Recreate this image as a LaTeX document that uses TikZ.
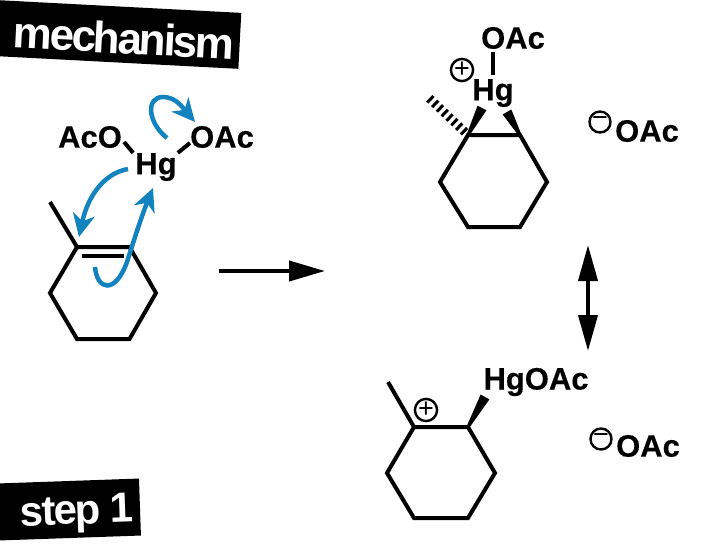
\documentclass[tikz,border=0pt]{standalone}
\usepackage{fontspec}
\setmainfont{Liberation Sans}[BoldFont={Liberation Sans Bold}]
\newfontfamily\labelfont{Liberation Sans Bold}[FakeBold=0.3]
\newfontfamily\headfont{Liberation Sans Bold}[LetterSpace=-6]
\newfontfamily\stepfont{Liberation Sans Bold}[LetterSpace=-5]
\usetikzlibrary{arrows,arrows.meta}
\usetikzlibrary{calc}
\definecolor{pfeil}{RGB}{18,131,190}
\tikzset{
	bond/.style={line width=4pt},
	atom/.style={font=\fontsize{31}{31}\labelfont,inner sep=0pt},
	charge/.style={draw,circle,line width=2.4pt,inner sep=0pt,minimum size=21pt,font=\fontsize{27}{27}\selectfont},
	banner/.style={fill=black,inner sep=0pt},
	bannertext/.style={text=white,inner sep=0pt},
	curly/.style={pfeil,line width=4.5pt,-{Stealth[length=23pt,width=22pt,inset=7pt]}},
	reaction/.style={line width=4pt,-{Triangle[length=36pt,width=20pt]}},
	equilibrium/.style={line width=4pt,{Triangle[length=36pt,width=19pt]}-{Triangle[length=36pt,width=19pt]}},
}
\newcommand{\wedgebond}[2]{\fill ($(#1)!1.5pt!90:(#2)$) -- ($(#2)!5pt!-90:(#1)$) -- ($(#2)!5pt!90:(#1)$) -- ($(#1)!1.5pt!-90:(#2)$) -- cycle;}
\begin{document}
\begin{tikzpicture}[x=1pt,y=-1pt]
		\useasboundingbox (0,0) rectangle (728,546);
		% banners
		\node[banner,rotate=-3,minimum width=262pt,minimum height=56pt] (B1) at (109,34) {};
		\node[bannertext,rotate=-3,font=\fontsize{44}{44}\headfont] (T1) at (124,38) {mechanism};
		\node[banner,rotate=2,minimum width=170pt,minimum height=57pt] (B2) at (55,510) {};
		\node[bannertext,rotate=2,font=\fontsize{42}{42}\stepfont] (T2) at (77,514) {step 1};
		% left ring
		\coordinate (A1) at (77,247);
		\coordinate (A2) at (129.5,247);
		\coordinate (A3) at (156,293);
		\coordinate (A4) at (129.5,339);
		\coordinate (A5) at (77,339);
		\coordinate (A6) at (50,293);
		\coordinate (AM) at (50,202);
		\coordinate (AD1) at (82,256);
		\coordinate (AD2) at (124,256);
		\draw[bond] (A1) -- (A2) -- (A3) -- (A4) -- (A5) -- (A6) -- cycle;
		\draw[bond] (A1) -- (AM);
		\draw[bond] (AD1) -- (AD2);
		\node[atom] (AcO) at (90,137) {AcO};
		\node[atom] (Hg1) at (156,167) {Hg};
		\node[atom] (OAc1) at (222,137) {OAc};
		\path (AcO.east) ++(2,5) coordinate (P1) (Hg1.north west) ++(-2,0) coordinate (P2);
		\draw[bond] (P1) -- (P2);
		\path (Hg1.north east) ++(1,0) coordinate (P3) (OAc1.west) ++(0,6) coordinate (P4);
		\draw[bond] (P3) -- (P4);
		% curly arrows
		\coordinate (C1) at (167,138);
		\coordinate (C2) at (195,122);
		\draw[curly] (C1) .. controls (147,122) and (146,97) .. (163,97) .. controls (176,97) and (183,108) .. (C2);
		\coordinate (C3) at (128,169);
		\coordinate (C4) at (79,237);
		\draw[curly] (C3) .. controls (105,173) and (88,195) .. (C4);
		\coordinate (C5) at (95,267);
		\coordinate (C6) at (153,188);
		\draw[curly] (C5) .. controls (97,290) and (115,295) .. (127,262) .. controls (134,240) and (142,215) .. (C6);
		% reaction arrow
		\coordinate (R1) at (219,271);
		\coordinate (R2) at (325,271);
		\draw[reaction] (R1) -- (R2);
		\coordinate (E1) at (588,245);
		\coordinate (E2) at (588,351);
		\draw[equilibrium] (E1) -- (E2);
		% top ring
		\coordinate (B1a) at (468,135);
		\coordinate (B2a) at (520,135);
		\coordinate (B3a) at (547,182);
		\coordinate (B4a) at (520,227);
		\coordinate (B5a) at (468,227);
		\coordinate (B6a) at (440,182);
		\draw[bond] (B1a) -- (B2a) -- (B3a) -- (B4a) -- (B5a) -- (B6a) -- cycle;
		\node[atom] (OAc2) at (513,38) {OAc};
		\node[atom] (Hg2) at (493,93) {Hg};
		\coordinate (Q1) at (493,52);
		\coordinate (Q2) at (493,75);
		\draw[bond] (Q1) -- (Q2);
		\node[charge] (Plus1) at (462,70) {+};
		\coordinate (W1) at (482,108);
		\coordinate (W2) at (507,112);
		\wedgebond{B1a}{W1}
		\wedgebond{B2a}{W2}
		\coordinate (H1) at (428,97);
		\foreach \t in {0.1,0.22,...,1.0} {
			\draw[line width=3pt] ($(B1a)!\t!(H1)!4.5pt!90:(H1)$) -- ($(B1a)!\t!(H1)!4.5pt!-90:(H1)$);
		}
		\node[charge] (Minus1) at (600,122) {−};
		\node[atom] (OAc3) at (647,131) {OAc};
		% bottom ring
		\coordinate (D1) at (414,427);
		\coordinate (D2) at (468,427);
		\coordinate (D3) at (495,473);
		\coordinate (D4) at (468,518);
		\coordinate (D5) at (414,518);
		\coordinate (D6) at (387,473);
		\coordinate (DM) at (388,382);
		\draw[bond] (D1) -- (D2) -- (D3) -- (D4) -- (D5) -- (D6) -- cycle;
		\draw[bond] (D1) -- (DM);
		\node[charge] (Plus2) at (426,410) {+};
		\coordinate (W3) at (485,397);
		\wedgebond{D2}{W3}
		\node[atom] (HgOAc) at (536,382) {HgOAc};
		\node[charge] (Minus2) at (601,439) {−};
		\node[atom] (OAc4) at (648,446) {OAc};
\end{tikzpicture}
\end{document}
